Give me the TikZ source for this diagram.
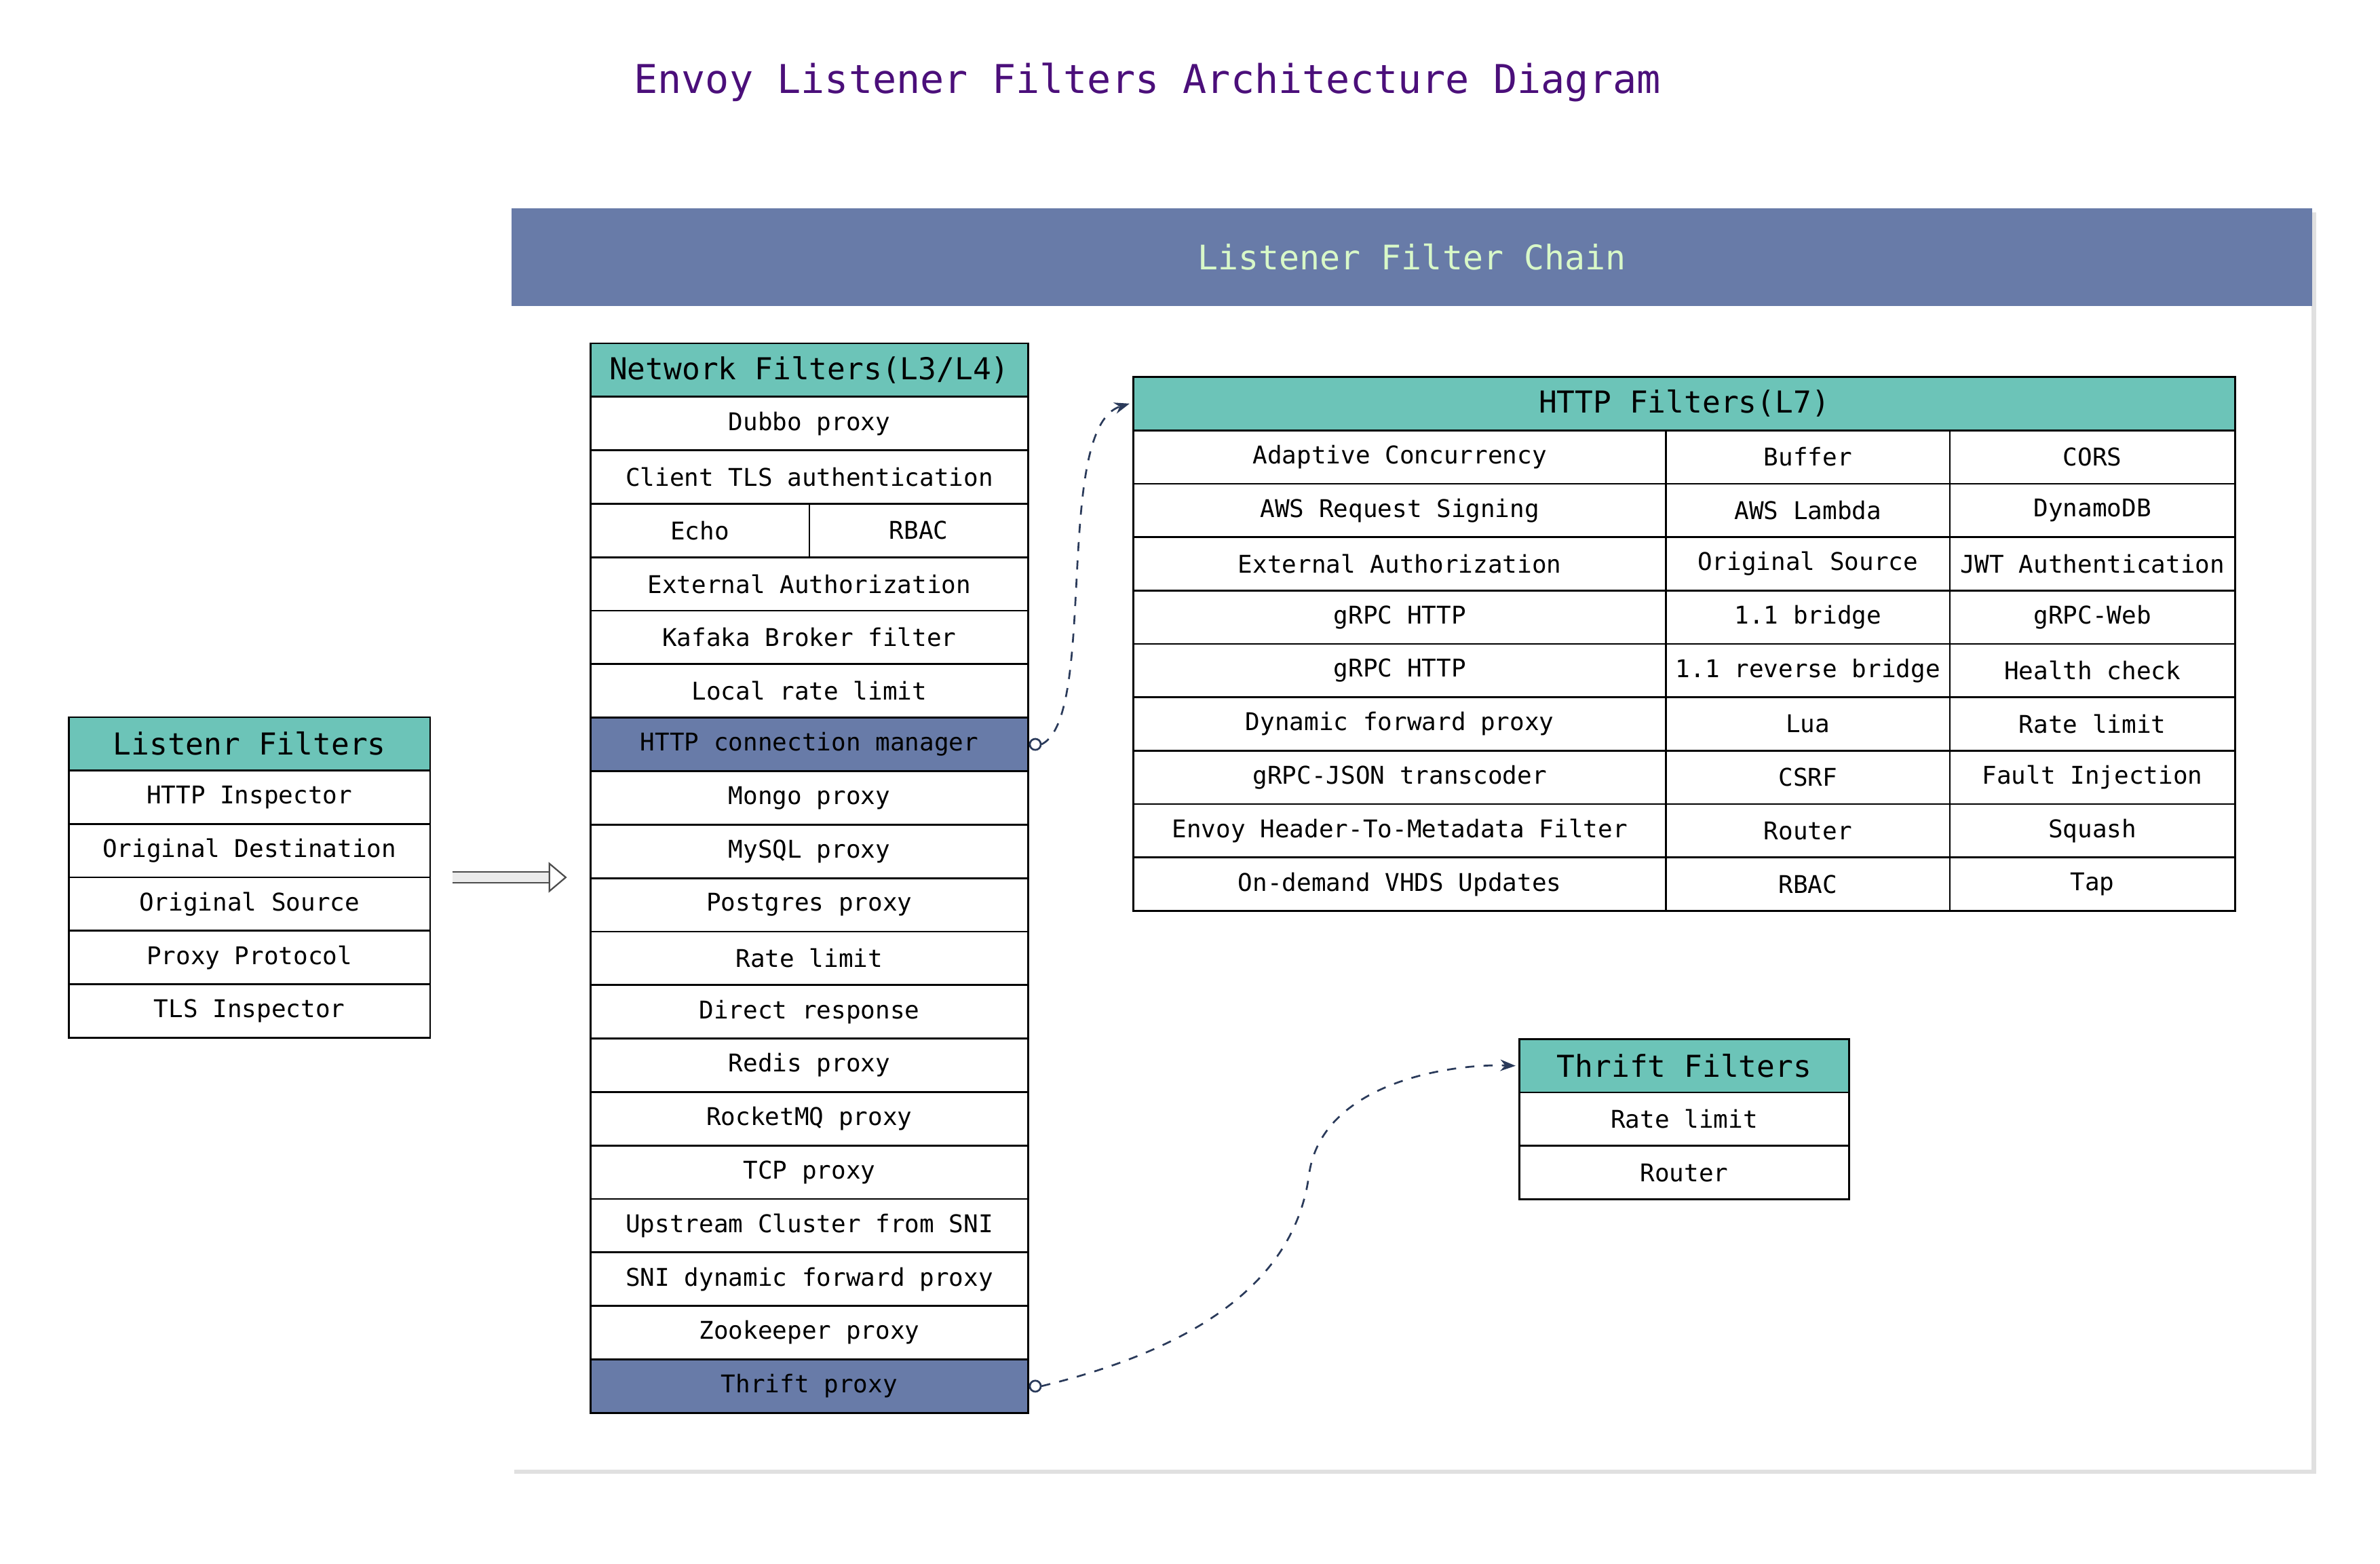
\documentclass[tikz,border=0pt]{standalone}
\usepackage{fontspec}
\setmainfont{DejaVu Sans Mono}
\usetikzlibrary{arrows.meta}
\definecolor{teal1}{HTML}{6CC4B8}
\definecolor{blue1}{HTML}{687BA8}
\definecolor{title1}{HTML}{4B0F7A}
\definecolor{hdrtxt}{HTML}{D8F8C8}
\definecolor{conn}{HTML}{2A3A5A}
\begin{document}
\begin{tikzpicture}[x=0.5pt,y=-0.5pt,
  cell/.style={draw=black,line width=0.6pt,fill=white,inner sep=0pt,minimum height=17.5pt,font=\fontsize{8}{9}\selectfont},
  hdr/.style={cell,fill=teal1,font=\fontsize{9.9}{11}\selectfont},
  hl/.style={cell,fill=blue1},
  link/.style={conn,dashed,line width=0.6pt,-{Stealth[length=5pt]}}]
\useasboundingbox (0,0) rectangle (1560,1025);
\node[text=title1,font=\fontsize{13}{15}\selectfont] (title) at (752,54) {Envoy Listener Filters Architecture Diagram};
% container
\fill[black!12] (337,139) rectangle (1518,966);
\fill[white] (335,136) rectangle (1515,963);
\node[fill=blue1,minimum width=590pt,minimum height=32pt,inner sep=0pt,anchor=north west,text=hdrtxt,font=\fontsize{11.1}{13}\selectfont] (chain) at (335,136) {Listener Filter Chain};
% Listener filters
\node[hdr,minimum width=118.5pt] (lf) at (163.5,487.5) {Listenr Filters};
\foreach \t [count=\i] in {HTTP Inspector,Original Destination,Original Source,Proxy Protocol,TLS Inspector}
  \node[cell,minimum width=118.5pt] (lf\i) at (163.5,487.5+35*\i) {\t};
% arrow
\node[inner sep=0pt] (as) at (295,575) {};
\node[inner sep=0pt] (ae) at (373,575) {};
\draw[black!70,line width=0.5pt,double=black!8,double distance=3pt,-{Triangle[open,length=6pt,width=10pt]}] (as) -- (ae);
% Network filters
\node[hdr,minimum width=143.5pt] (nf) at (530.5,242.5) {Network Filters(L3/L4)};
\foreach \t [count=\i] in {Dubbo proxy,Client TLS authentication,X,External Authorization,Kafaka Broker filter,Local rate limit,Y,Mongo proxy,MySQL proxy,Postgres proxy,Rate limit,Direct response,Redis proxy,RocketMQ proxy,TCP proxy,Upstream Cluster from SNI,SNI dynamic forward proxy,Zookeeper proxy,Z}{
  \ifnum\i=3
    \node[cell,minimum width=71.75pt] (nfa\i) at (458.75,242.5+35.05*\i) {Echo};
    \node[cell,minimum width=71.75pt] (nf\i) at (602.25,242.5+35.05*\i) {RBAC};
  \else\ifnum\i=7
    \node[hl,minimum width=143.5pt] (nf\i) at (530.5,242.5+35.05*\i) {HTTP connection manager};
  \else\ifnum\i=19
    \node[hl,minimum width=143.5pt] (nf\i) at (530.5,242.5+35.05*\i) {Thrift proxy};
  \else
    \node[cell,minimum width=143.5pt] (nf\i) at (530.5,242.5+35.05*\i) {\t};
  \fi\fi\fi}
% HTTP filters
\node[hdr,minimum width=361pt] (hf) at (1104,264.5) {HTTP Filters(L7)};
\foreach \a/\b/\c [count=\i] in {Adaptive Concurrency/Buffer/CORS,AWS Request Signing/AWS Lambda/DynamoDB,External Authorization/Original Source/JWT Authentication,gRPC HTTP/1.1 bridge/gRPC-Web/Gzip,gRPC HTTP/1.1 reverse bridge/Health check/IP Tagging,Dynamic forward proxy/Lua/Rate limit,gRPC-JSON transcoder/CSRF/Fault Injection,Envoy Header-To-Metadata Filter/Router/Squash,On-demand VHDS Updates/RBAC/Tap}{
  \node[cell,minimum width=174.5pt] (ha\i) at (917.5,264.5+35*\i) {\a};
  \node[cell,minimum width=93pt] (hb\i) at (1185,264.5+35*\i) {\b};
  \node[cell,minimum width=93.5pt] (hc\i) at (1371.5,264.5+35*\i) {\c};}
% Thrift filters
\node[hdr,minimum width=108pt] (tf) at (1104,698.5) {Thrift Filters};
\node[cell,minimum width=108pt] (tf1) at (1104,733.5) {Rate limit};
\node[cell,minimum width=108pt] (tf2) at (1104,768.5) {Router};
% connectors
\draw[conn,line width=0.6pt,fill=white] ([xshift=2pt]nf7.east) circle (1.8pt);
\draw[conn,line width=0.6pt,fill=white] ([xshift=2pt]nf19.east) circle (1.8pt);
\draw[link] ([xshift=4pt]nf7.east) .. controls (720,470) and (690,280) .. ([xshift=-1pt,yshift=0pt]hf.west);
\draw[link] ([xshift=4pt]nf19.east) .. controls (800,880) and (850,830) .. (858,770) .. controls (866,710) and (950,697) .. ([xshift=-1pt]tf.west);
\end{tikzpicture}
\end{document}
